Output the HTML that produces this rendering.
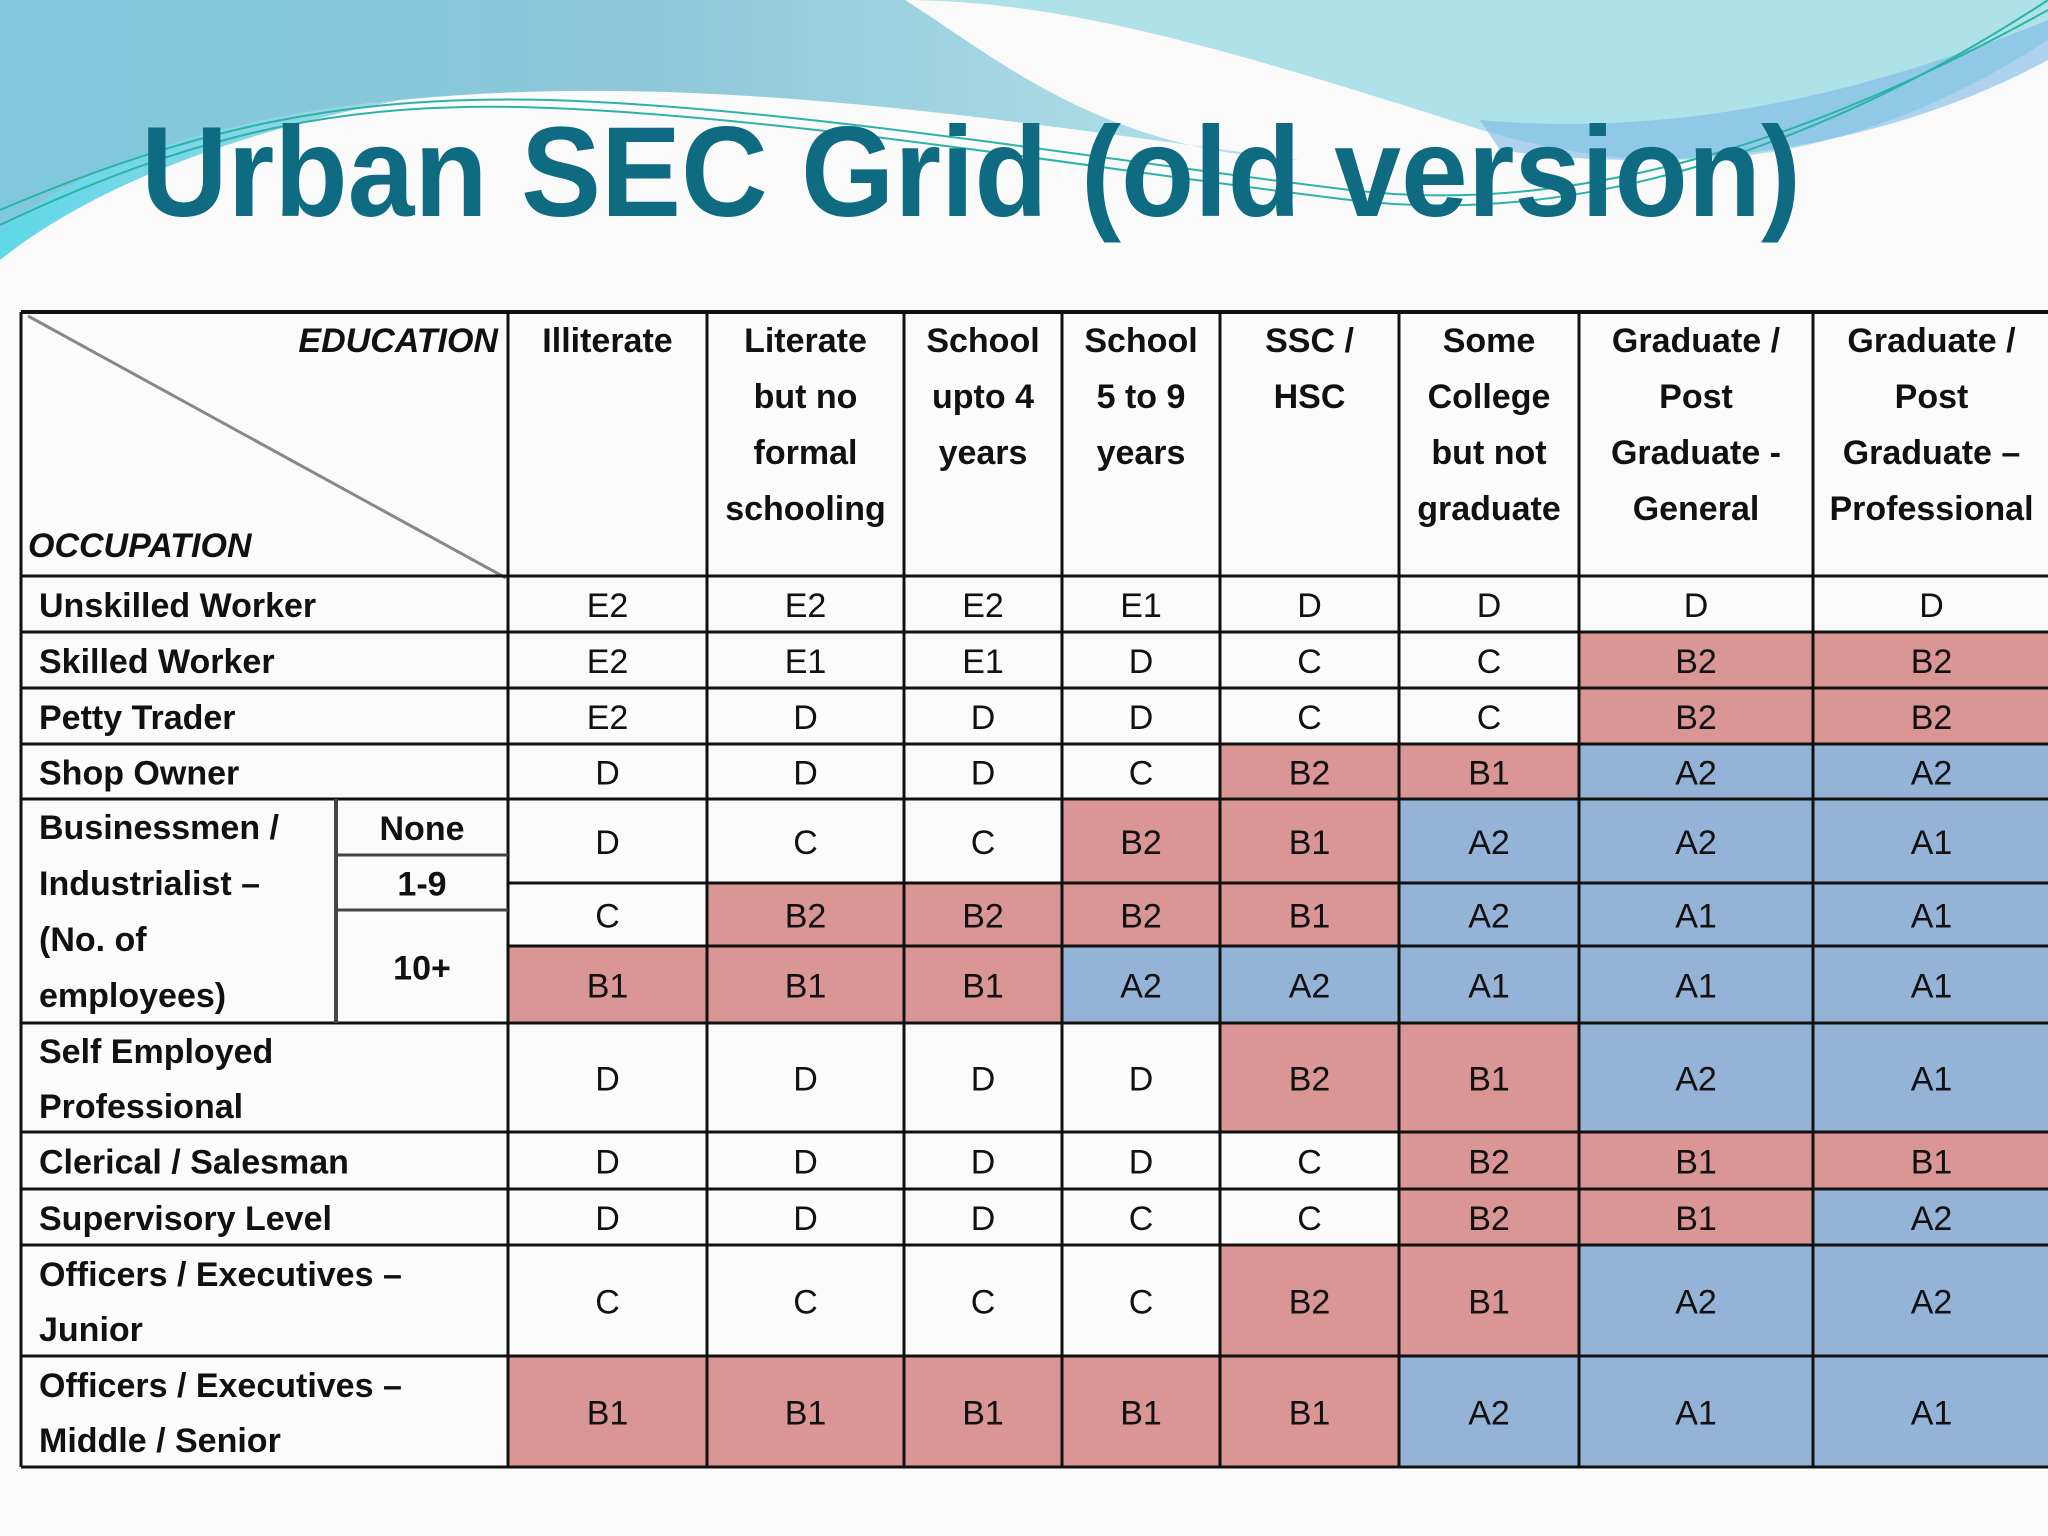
<!DOCTYPE html>
<html><head><meta charset="utf-8">
<style>
html,body{margin:0;padding:0;background:#fafafa;}
svg{display:block;}
</style></head>
<body>
<svg id="s" width="2048" height="1536" viewBox="0 0 2048 1536" xmlns="http://www.w3.org/2000/svg">
<defs>
<linearGradient id="bg1" x1="0" y1="0" x2="1" y2="0">
<stop offset="0" stop-color="#7fc8dc"/><stop offset="0.5" stop-color="#8ec7d9"/><stop offset="1" stop-color="#b5e3ea"/>
</linearGradient>
<linearGradient id="bg2" x1="0" y1="0" x2="1" y2="0">
<stop offset="0" stop-color="#5fd8e8"/><stop offset="1" stop-color="#9fd4e6"/>
</linearGradient>
</defs>
<rect width="2048" height="1536" fill="#fafafa"/>
<g>
<path d="M0 0 H2048 V40 C1800 200 1600 170 1450 120 C1200 40 1050 0 900 0 Z" fill="#aee2e8"/>
<path d="M0 0 H900 C1000 40 1150 160 1350 190 C1550 215 1800 130 2048 50 V0 Z" fill="none"/>
<path d="M0 0 H905 C1000 60 1100 150 1300 160 C1000 120 700 70 400 100 C200 120 80 170 0 230 Z" fill="url(#bg1)"/>
<path d="M0 230 C80 170 200 120 400 100 C250 130 100 180 0 260 Z" fill="url(#bg2)"/>
<path d="M1480 120 C1700 140 1900 80 2048 20 V60 C1900 140 1700 180 1500 150 Z" fill="#7cb8e6" opacity="0.6"/>
<path d="M0 225 C200 130 350 100 550 108 C800 118 1100 170 1350 200 C1600 230 1850 130 2048 0" fill="none" stroke="#2bb3a8" stroke-width="2"/>
<path d="M0 210 C200 125 350 95 550 100 C800 108 1100 160 1350 190 C1600 220 1850 120 2048 10" fill="none" stroke="#2bb3a8" stroke-width="2"/>
</g>
<text x="141" y="216" font-family="Liberation Sans, sans-serif" font-weight="bold" font-size="128" fill="#0e6b82" textLength="1660" lengthAdjust="spacingAndGlyphs">Urban SEC Grid (old version)</text>
<g id="tbl"></g>
</svg>
<script>
const colLabels = [["Illiterate"],["Literate","but no","formal","schooling"],["School","upto 4","years"],["School","5 to 9","years"],["SSC /","HSC"],["Some","College","but not","graduate"],["Graduate /","Post","Graduate -","General"],["Graduate /","Post","Graduate –","Professional"]];
const rowLabels = [["Unskilled Worker"],["Skilled Worker"],["Petty Trader"],["Shop Owner"],null,null,null,["Self  Employed","Professional"],["Clerical / Salesman"],["Supervisory Level"],["Officers / Executives –","Junior"],["Officers / Executives –","Middle / Senior"]];
const grades = [
["E2","E2","E2","E1","D","D","D","D"],
["E2","E1","E1","D","C","C","B2","B2"],
["E2","D","D","D","C","C","B2","B2"],
["D","D","D","C","B2","B1","A2","A2"],
["D","C","C","B2","B1","A2","A2","A1"],
["C","B2","B2","B2","B1","A2","A1","A1"],
["B1","B1","B1","A2","A2","A1","A1","A1"],
["D","D","D","D","B2","B1","A2","A1"],
["D","D","D","D","C","B2","B1","B1"],
["D","D","D","C","C","B2","B1","A2"],
["C","C","C","C","B2","B1","A2","A2"],
["B1","B1","B1","B1","B1","A2","A1","A1"]];
const empLabels = ["None","1-9","10+"];

const NS="http://www.w3.org/2000/svg";
const g=document.getElementById('tbl');
const colX=[21,508,707,904,1062,1220,1399,1579,1813,2050];
const rowY=[576,632,688,744,799,883,946,1023,1132,1189,1245,1356,1467];
const FONT="Liberation Sans, sans-serif";
function mk(tag,attrs){const e=document.createElementNS(NS,tag);for(const k in attrs)e.setAttribute(k,attrs[k]);g.appendChild(e);return e;}
function txt(x,y,s,size,bold,anchor){const t=mk('text',{x:x,y:y,'font-family':FONT,'font-size':size,'font-weight':bold?'bold':'normal','text-anchor':anchor||'middle','dominant-baseline':'central',fill:'#111'});t.textContent=s;return t;}
function fill(grade){return grade[0]==='A'?'#95b3d7':grade[0]==='B'?'#d99694':'#fbfbfb';}

// header background
mk('rect',{x:21,y:312,width:2030,height:1155,fill:'#fbfbfb'});
// cells
for(let r=0;r<grades.length;r++){
  for(let c=0;c<8;c++){
    const v=grades[r][c];
    const rc=mk('rect',{x:colX[c+1],y:rowY[r],width:colX[c+2]-colX[c+1],height:rowY[r+1]-rowY[r],fill:fill(v)});
    
    
    const t=txt((colX[c+1]+colX[c+2])/2,(rowY[r]+rowY[r+1])/2+2,v,34,false);
    
    
  }
}
// column headers
for(let c=0;c<8;c++){
  colLabels[c].forEach((s,i)=>{
    const t=txt((colX[c+1]+colX[c+2])/2,341+i*56,s,34,true);
    
    
  });
}
// row labels
for(let r=0;r<rowLabels.length;r++){
  const L=rowLabels[r]; if(!L) continue;
  const cy=(rowY[r]+rowY[r+1])/2;
  L.forEach((s,i)=>{
    const t=txt(39,cy+(i-(L.length-1)/2)*55+2,s,34,true,'start');
    
    
  });
}
["Businessmen /","Industrialist –","(No. of","employees)"].forEach((s,i)=>{
  const t=txt(39,828+i*56,s,34,true,'start');
  
  
});
const empY=[799,855,910,1023];
empLabels.forEach((s,i)=>{
  const t=txt(422,(empY[i]+empY[i+1])/2+2,s,34,true);
  
  
});
txt(498,341,"EDUCATION",34,true,'end').setAttribute('font-style','italic');
txt(28,546,"OCCUPATION",34,true,'start').setAttribute('font-style','italic');
// diagonal
mk('line',{x1:28,y1:316,x2:506,y2:578,stroke:'#888',"stroke-width":3});
// grid lines
const L='#111';
mk('line',{x1:21,y1:312,x2:2048,y2:312,stroke:L,'stroke-width':4});
for(let i=0;i<rowY.length;i++){
  const y=rowY[i];
  if(i===5){mk('line',{x1:508,y1:y,x2:2048,y2:y,stroke:L,'stroke-width':3});continue;}
  if(i===6){mk('line',{x1:508,y1:y,x2:2048,y2:y,stroke:L,'stroke-width':3});continue;}
  mk('line',{x1:21,y1:y,x2:2048,y2:y,stroke:L,'stroke-width':3});
}
for(let i=0;i<colX.length-1;i++){
  mk('line',{x1:colX[i],y1:312,x2:colX[i],y2:1467,stroke:L,'stroke-width':3});
}
// sub column for employees
mk('line',{x1:336,y1:799,x2:336,y2:1023,stroke:'#444','stroke-width':4});
mk('line',{x1:336,y1:855,x2:508,y2:855,stroke:'#444','stroke-width':3});
mk('line',{x1:336,y1:910,x2:508,y2:910,stroke:'#444','stroke-width':3});
</script>
</body></html>
